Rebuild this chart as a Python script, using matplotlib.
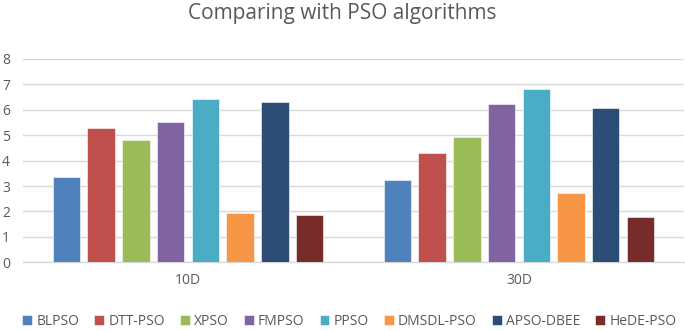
import numpy as np
import matplotlib
matplotlib.use("Agg")
from matplotlib import pyplot as plt

plt.rcParams['font.family'] = ['Open Sans', 'DejaVu Sans']

# Data
groups = ['10D', '30D']
algorithms = ['BLPSO', 'DTT-PSO', 'XPSO', 'FMPSO', 'PPSO', 'DMSDL-PSO', 'APSO-DBEE', 'HeDE-PSO']
values_10d = [3.37, 5.28, 4.80, 5.50, 6.43, 1.94, 6.30, 1.85]
values_30d = [3.23, 4.28, 4.92, 6.23, 6.81, 2.72, 6.05, 1.77]
colors = ['#4F81BD', '#C0504D', '#9BBB59', '#8064A2', '#4BACC6', '#F79646', '#2C4D75', '#772C2A']

text_color = '#595959'
grid_color = '#D9D9D9'

fig = plt.figure(figsize=(6.85, 3.31), dpi=100)
ax = fig.add_axes([0.033, 0.2076, 0.966, 0.6144])

x = np.arange(len(groups))
pitch = 0.105
width = 0.083
for i, name in enumerate(algorithms):
    vals = [values_10d[i], values_30d[i]]
    offset = (i - (len(algorithms) - 1) / 2) * pitch
    ax.bar(x + offset, vals, width, color=colors[i], label=name,
           edgecolor='white', linewidth=0.4, zorder=3)

ax.set_xlim(-0.5, 1.5)
ax.set_ylim(0, 8)
ax.set_yticks(range(0, 9))
ax.set_xticks(x)
ax.set_xticklabels(groups)
ax.grid(axis='y', color=grid_color, linewidth=1, zorder=0)
for s in ['top', 'right', 'left']:
    ax.spines[s].set_visible(False)
ax.spines['bottom'].set_color(grid_color)
ax.spines['bottom'].set_linewidth(1)
ax.tick_params(axis='both', length=0, labelsize=10, colors=text_color)
ax.tick_params(axis='y', pad=9)
ax.tick_params(axis='x', pad=8)

fig.suptitle('Comparing with PSO algorithms', y=0.99, fontsize=15, color=text_color)

fig.legend(loc='center', bbox_to_anchor=(0.51, 0.03), ncol=8, frameon=False,
           fontsize=10, handlelength=0.7, handleheight=0.7, handletextpad=0.3,
           columnspacing=1.1, labelcolor=text_color)

fig.savefig('out.png', dpi=100)
